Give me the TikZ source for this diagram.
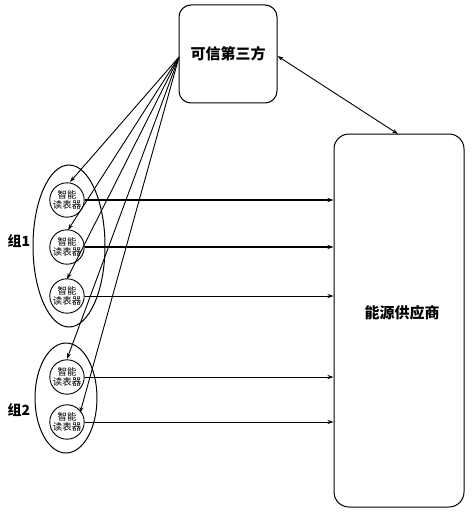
\documentclass[tikz,border=0pt]{standalone}
\usepackage{fontspec}
\newfontfamily\cjk{Noto Sans CJK SC}
\usetikzlibrary{arrows.meta,shapes.geometric}
\begin{document}
\begin{tikzpicture}[x=1pt,y=-1pt,
  box/.style={draw, line width=1pt, rounded corners=12pt, inner sep=0pt},
  meter/.style={draw, circle, line width=0.9pt, minimum size=34pt, inner sep=0pt, font=\cjk\fontsize{9.5}{10.5}\selectfont, align=center},
  grp/.style={draw, ellipse, line width=1pt, inner sep=0pt},
  arr/.style={line width=0.9pt, -{Stealth[length=6pt,width=4pt]}},
  harr/.style={line width=1.1pt, -{Stealth[length=6pt,width=4pt]}},
  lbl/.style={font=\cjk\bfseries\fontsize{14}{16}\selectfont}
]
\useasboundingbox (0,0) rectangle (474,516);
% boxes
\node[box, minimum width=98pt, minimum height=98pt, font=\cjk\bfseries\fontsize{15}{17}\selectfont] (tp) at (228,54) {可信第三方};
\node[box, rounded corners=15pt, minimum width=130pt, minimum height=373pt] (sup) at (399,320.5) {};
\node[font=\cjk\bfseries\fontsize{15}{17}\selectfont] (suplbl) at (402,313) {能源供应商};
% groups
\node[grp, minimum width=72pt, minimum height=162pt] (g1) at (69,246) {};
\node[grp, minimum width=62pt, minimum height=110pt] (g2) at (66,398) {};
\node[lbl] (l1) at (19,241) {组1};
\node[lbl] (l2) at (19,410) {组2};
% meters
\node[meter] (m1) at (67,200) {智能\\读表器};
\node[meter] (m2) at (67,247) {智能\\读表器};
\node[meter] (m3) at (67,296) {智能\\读表器};
\node[meter] (m4) at (67,377) {智能\\读表器};
\node[meter] (m5) at (67,422) {智能\\读表器};
% connectors from trusted third party
\coordinate (src) at (179,57);
\draw[arr] (src) -- (70,182);
\draw[arr] (src) -- (68,230);
\draw[arr] (src) -- (67,279);
\draw[arr] (src) -- (67,359);
\draw[arr] (src) -- (80,413);
% meters to supplier
\draw[harr] (m1.east) -- (m1.east -| sup.west);
\draw[harr] (m2.east) -- (m2.east -| sup.west);
\draw[arr] (m3.east) -- (m3.east -| sup.west);
\draw[arr] (m4.east) -- (m4.east -| sup.west);
\draw[arr] (m5.east) -- (m5.east -| sup.west);
% double arrow
\draw[line width=0.9pt, {Stealth[length=6pt,width=4pt]}-{Stealth[length=6pt,width=4pt]}] (tp.east |- 0,56) -- (398,134);
\end{tikzpicture}
\end{document}
